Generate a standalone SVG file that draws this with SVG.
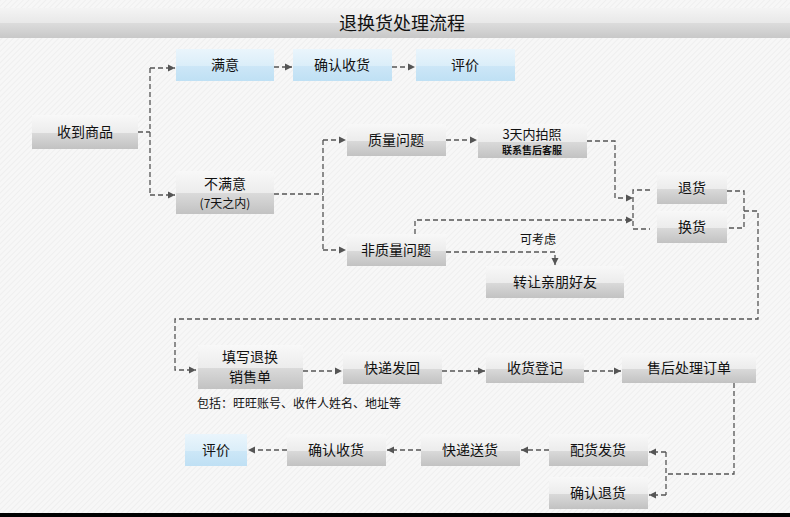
<svg xmlns="http://www.w3.org/2000/svg" width="790" height="517" viewBox="0 0 790 517">
<defs>
<pattern id="bg" width="4" height="4" patternUnits="userSpaceOnUse" patternTransform="rotate(45)">
<rect width="4" height="4" fill="#f7f7f7"/>
<rect width="1" height="4" fill="#efefef"/>
</pattern>
<linearGradient id="gray" x1="0" y1="0" x2="0" y2="1">
<stop offset="0" stop-color="#f8f8f8"/>
<stop offset="0.52" stop-color="#ececec"/>
<stop offset="0.52" stop-color="#dadada"/>
<stop offset="1" stop-color="#c2c2c2"/>
</linearGradient>
<linearGradient id="blue" x1="0" y1="0" x2="0" y2="1">
<stop offset="0" stop-color="#eaf5fc"/>
<stop offset="0.52" stop-color="#dbeef9"/>
<stop offset="0.52" stop-color="#cde7f7"/>
<stop offset="1" stop-color="#bfe0f4"/>
</linearGradient>
<linearGradient id="title" x1="0" y1="0" x2="0" y2="1">
<stop offset="0" stop-color="#f4f4f4"/>
<stop offset="0.5" stop-color="#e8e8e8"/>
<stop offset="0.5" stop-color="#dcdcdc"/>
<stop offset="1" stop-color="#c8c8c8"/>
</linearGradient>
<marker id="arr" markerWidth="8" markerHeight="8" refX="7" refY="4" orient="auto" markerUnits="userSpaceOnUse">
<path d="M0,0.5 L7,4 L0,7.5 z" fill="#555"/>
</marker>
</defs>
<style>
text{font-family:"Noto Sans CJK SC","Liberation Sans",sans-serif;fill:#111;text-anchor:middle}
.lbl{font-size:14px}
.g{fill:url(#gray)}
.b{fill:url(#blue)}
.c{fill:none;stroke:#555;stroke-width:1.3;stroke-dasharray:5,3}
.a{marker-end:url(#arr)}
</style>
<rect width="790" height="517" fill="url(#bg)"/>
<g id="titlebar">
<rect x="0" y="8" width="790" height="30" fill="url(#title)"/>
<text x="402" y="30" font-size="18">退换货处理流程</text>
</g>
<rect x="0" y="513" width="790" height="4" fill="#000"/>

<g id="connectors">
<path class="c" d="M138,132 H150 M150,68 V195"/>
<path class="c a" d="M150,68 H175"/>
<path class="c a" d="M150,195 H175"/>
<path class="c a" d="M274,67 H292"/>
<path class="c a" d="M392,67 H415"/>
<path class="c" d="M274,194 H323 M323,140 V250"/>
<path class="c a" d="M323,140 H346"/>
<path class="c a" d="M323,250 H346"/>
<path class="c a" d="M446,140 H477"/>
<path class="c a" d="M587,141 H615 V198 H633"/>
<path class="c" d="M650,190 H633 V229 H650"/>
<path class="c a" d="M415,234 V220 H633"/>
<path class="c a" d="M446,252 H555 V265"/>
<path class="c" d="M727,191 H744 V228 H727"/>
<path class="c a" d="M744,211 H758 V319 H175 V370 H196"/>
<path class="c a" d="M303,371 H342"/>
<path class="c a" d="M442,371 H485"/>
<path class="c a" d="M584,371 H621"/>
<path class="c" d="M734,383 V474 H666 M666,452 V495"/>
<path class="c a" d="M666,452 H649"/>
<path class="c a" d="M666,495 H649"/>
<path class="c a" d="M549,450 H521"/>
<path class="c a" d="M421,450 H387"/>
<path class="c a" d="M287,450 H248"/>
<text x="538" y="244" font-size="12">可考虑</text>
</g>

<g id="n-receive"><rect class="g" x="32" y="115" width="106" height="34"/><text class="lbl" x="85" y="137">收到商品</text></g>
<g id="n-satisfied"><rect class="b" x="176" y="49" width="98" height="32"/><text class="lbl" x="225" y="70">满意</text></g>
<g id="n-confirm1"><rect class="b" x="293" y="49" width="99" height="32"/><text class="lbl" x="342" y="70">确认收货</text></g>
<g id="n-review1"><rect class="b" x="416" y="49" width="99" height="32"/><text class="lbl" x="465" y="70">评价</text></g>
<g id="n-unsatisfied"><rect class="g" x="176" y="171" width="98" height="43"/><text class="lbl" x="225" y="189">不满意</text><text x="225" y="208" font-size="12">(7天之内)</text></g>
<g id="n-quality"><rect class="g" x="347" y="124" width="99" height="32"/><text class="lbl" x="396" y="145">质量问题</text></g>
<g id="n-photo"><rect class="g" x="478" y="124" width="109" height="34"/><text x="532" y="139" font-size="13">3天内拍照</text><text x="532" y="154" font-size="10" font-weight="bold">联系售后客服</text></g>
<g id="n-nonquality"><rect class="g" x="347" y="234" width="99" height="32"/><text class="lbl" x="396" y="255">非质量问题</text></g>
<g id="n-transfer"><rect class="g" x="486" y="266" width="138" height="32"/><text class="lbl" x="555" y="287">转让亲朋好友</text></g>
<g id="n-return"><rect class="g" x="657" y="172" width="70" height="32"/><text class="lbl" x="692" y="193">退货</text></g>
<g id="n-exchange"><rect class="g" x="657" y="211" width="70" height="32"/><text class="lbl" x="692" y="232">换货</text></g>
<g id="n-fill"><rect class="g" x="198" y="345" width="105" height="44"/><text class="lbl" x="250" y="362">填写退换</text><text class="lbl" x="250" y="382">销售单</text></g>
<text x="197" y="408" font-size="12" style="text-anchor:start">包括：旺旺账号、收件人姓名、地址等</text>
<g id="n-sendback"><rect class="g" x="343" y="352" width="99" height="32"/><text class="lbl" x="392" y="373">快递发回</text></g>
<g id="n-register"><rect class="g" x="486" y="353" width="98" height="30"/><text class="lbl" x="535" y="373">收货登记</text></g>
<g id="n-process"><rect class="g" x="622" y="353" width="134" height="30"/><text class="lbl" x="689" y="373">售后处理订单</text></g>
<g id="n-ship"><rect class="g" x="549" y="434" width="99" height="32"/><text class="lbl" x="598" y="455">配货发货</text></g>
<g id="n-confirmreturn"><rect class="g" x="549" y="477" width="99" height="32"/><text class="lbl" x="598" y="498">确认退货</text></g>
<g id="n-deliver"><rect class="g" x="421" y="434" width="99" height="32"/><text class="lbl" x="470" y="455">快递送货</text></g>
<g id="n-confirm2"><rect class="g" x="287" y="434" width="99" height="32"/><text class="lbl" x="336" y="455">确认收货</text></g>
<g id="n-review2"><rect class="b" x="185" y="434" width="62" height="32"/><text class="lbl" x="216" y="455">评价</text></g>
</svg>
